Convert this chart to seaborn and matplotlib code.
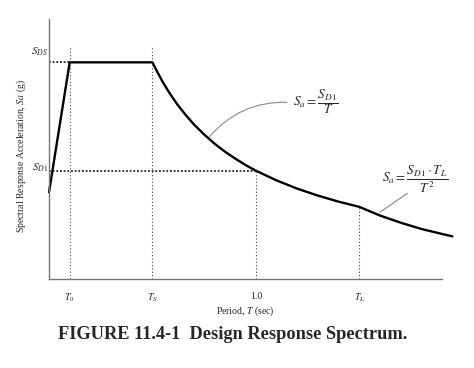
import numpy as np
import pandas as pd
import seaborn as sns
import matplotlib.pyplot as plt

# spectrum values (SDS = 1.0 g, SD1 = 0.5 g)
period = [0.0, 0.1, 0.5, 0.52, 0.55, 0.58, 0.62, 0.66, 0.7, 0.75, 0.8, 0.85, 0.9,
          0.95, 1.0, 1.1, 1.2, 1.3, 1.4, 1.5, 1.6, 1.7, 1.8, 1.9, 1.95]
accel = [0.4, 1.0, 1.0, 0.962, 0.909, 0.862, 0.806, 0.758, 0.714, 0.667, 0.625, 0.588,
         0.556, 0.526, 0.5, 0.455, 0.417, 0.385, 0.357, 0.333, 0.293, 0.260, 0.231,
         0.208, 0.197]
tick_pos = [0.1, 0.5, 1.0, 1.5]
tick_labels = [r'$T_0$', r'$T_S$', '1.0', r'$T_L$']
SDS, SD1 = 1.0, 0.5

sns.set_style('white')
plt.rcParams['font.family'] = ['Liberation Serif', 'DejaVu Serif']
plt.rcParams['mathtext.fontset'] = 'stix'

df = pd.DataFrame({'T': period, 'Sa': accel})

fig = plt.figure(figsize=(4.74, 3.68), dpi=100)
ax = fig.add_axes([0.1034, 0.2418, 0.8291, 0.7066])
sns.lineplot(data=df, x='T', y='Sa', ax=ax, color='black', lw=1.7,
             estimator=None, clip_on=False)
ax.set_xlim(0, 1.9)
ax.set_ylim(0, 1.2)

# dotted guide lines
ax.plot([0, 0.1], [SDS, SDS], color='black', ls=(0, (1.2, 1.2)), lw=1.1)
ax.plot([0, 1.0], [SD1, SD1], color='black', ls=(0, (1.2, 1.2)), lw=1.1)
for t, top in [(0.1, 1.07), (0.5, 1.07), (1.0, 0.5), (1.5, 0.333)]:
    ax.plot([t, t], [0, top], color='#444444', ls=(0, (1, 2)), lw=0.8)

for s in ['top', 'right']:
    ax.spines[s].set_visible(False)
for s in ['left', 'bottom']:
    ax.spines[s].set_color('#777777')
    ax.spines[s].set_linewidth(1.0)

ax.set_xticks(tick_pos)
ax.set_xticklabels(tick_labels, fontsize=7)
ax.set_yticks([])
ax.tick_params(axis='x', length=0, pad=9)
ax.set_xlabel('Period, $T$ (sec)', fontsize=7, labelpad=0)
ax.set_ylabel('')
fig.text(0.045, 0.576, 'Spectral Response Acceleration, $Sa$ (g)', rotation=90,
         ha='center', va='center', fontsize=7)

ax.text(-0.045, 1.05, r'$S_{DS}$', ha='center', va='center', fontsize=8)
ax.text(-0.045, 0.514, r'$S_{D1}$', ha='center', va='center', fontsize=8)

# equations with leader lines
ax.annotate('', xy=(0.768, 0.648), xytext=(1.164, 0.815),
            arrowprops=dict(arrowstyle='-', color='#888888', lw=0.8,
                            connectionstyle='arc3,rad=0.25'))
ax.text(1.18, 0.815, r'$S_a = \dfrac{S_{D1}}{T}$', ha='left', va='center', fontsize=9.5)
ax.annotate('', xy=(1.589, 0.301), xytext=(1.744, 0.403),
            arrowprops=dict(arrowstyle='-', color='#888888', lw=0.8))
ax.text(1.61, 0.455, r'$S_a = \dfrac{S_{D1}\cdot T_L}{T^2}$', ha='left', va='center',
        fontsize=9.5, clip_on=False)

fig.text(0.49, 0.09, 'FIGURE 11.4-1  Design Response Spectrum.', ha='center',
         va='center', fontsize=13.2, fontweight='bold')

plt.savefig('out.png', dpi=100)
plt.close()
